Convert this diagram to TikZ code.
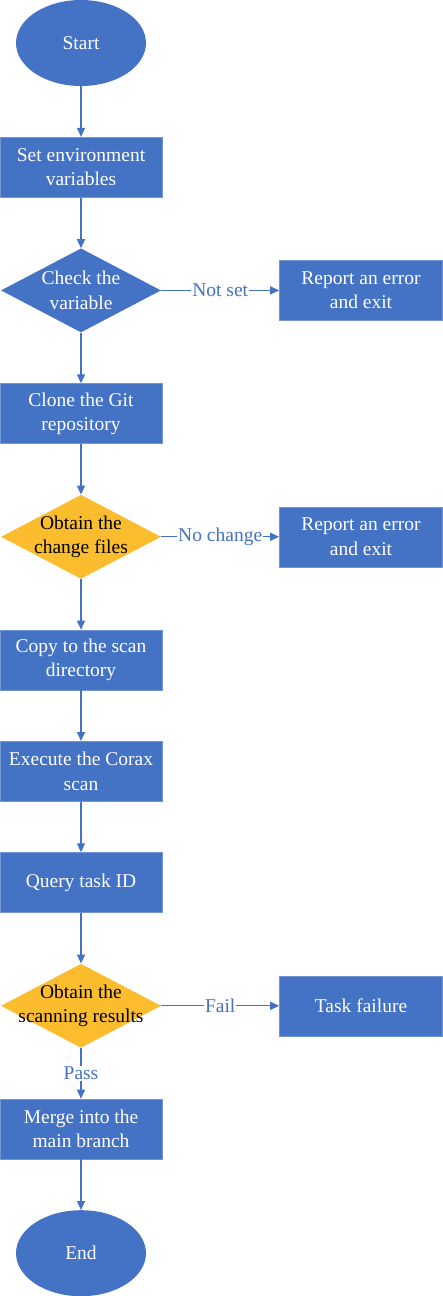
\documentclass[tikz,border=0pt]{standalone}
\usepackage{fontspec}
\setmainfont{Liberation Serif}
\usetikzlibrary{shapes.geometric,arrows.meta,positioning}
\definecolor{FB}{HTML}{4472C4}
\definecolor{FY}{HTML}{FBBD2E}

\begin{document}
\begin{tikzpicture}[x=1pt, y=1pt,
    node distance=50.7pt,
    font=\fontsize{19.5}{24.5}\selectfont,
    terminal/.style={ellipse, fill=FB, text=white,
      minimum width=130pt, minimum height=86pt, inner sep=0pt},
    process/.style={rectangle, fill=FB, draw=FB!75!white, line width=0.6pt,
      text=white, minimum width=162pt, minimum height=60pt,
      align=center, inner sep=0pt},
    decision/.style={diamond, fill=FB,
      minimum width=160pt, minimum height=84pt, inner sep=0pt},
    golddecision/.style={decision, fill=FY},
    flow/.style={draw=FB, line width=1.3pt, -{Triangle[length=9pt,width=8pt]}},
    tag/.style={fill=white, text=FB, inner sep=1pt}]
  \useasboundingbox (0,0) rectangle (442,-1296);

  % main column
  \node[terminal] (start) at (81,-43) {Start};
  \node[process, below=of start] (setenv) {Set environment\\variables};
  \node[decision, below=of setenv,
        label={[text=white, align=center]center:Check the\\variable}] (checkvar) {};
  \node[process, below=of checkvar] (clone) {Clone the Git\\repository};
  \node[golddecision, below=of clone,
        label={[text=black, align=center]center:Obtain the\\change files}] (changes) {};
  \node[process, below=of changes] (copy) {Copy to the scan\\directory};
  \node[process, below=of copy] (corax) {Execute the Corax\\scan};
  \node[process, below=of corax] (taskid) {Query task ID};
  \node[golddecision, below=of taskid,
        label={[text=black, align=center]center:Obtain the\\scanning results}] (results) {};
  \node[process, below=of results] (merge) {Merge into the\\main branch};
  \node[terminal, below=of merge] (end) {End};

  % side branches
  \node[process, right=118pt of checkvar, minimum width=163pt] (errvar) {Report an error\\and exit};
  \node[process, right=118pt of changes, minimum width=163pt] (errchange) {Report an error\\and exit};
  \node[process, right=118pt of results, minimum width=163pt] (failure) {Task failure};

  \draw[flow] (start) -- (setenv);
  \draw[flow] (setenv) -- (checkvar);
  \draw[flow] (checkvar) -- (clone);
  \draw[flow] (clone) -- (changes);
  \draw[flow] (changes) -- (copy);
  \draw[flow] (copy) -- (corax);
  \draw[flow] (corax) -- (taskid);
  \draw[flow] (taskid) -- (results);
  \draw[flow] (results) -- node[tag] {Pass} (merge);
  \draw[flow] (merge) -- (end);

  \draw[flow] (checkvar) -- node[tag] {Not set} (errvar);
  \draw[flow] (changes) -- node[tag] {No change} (errchange);
  \draw[flow] (results) -- node[tag] {Fail} (failure);
\end{tikzpicture}
\end{document}
